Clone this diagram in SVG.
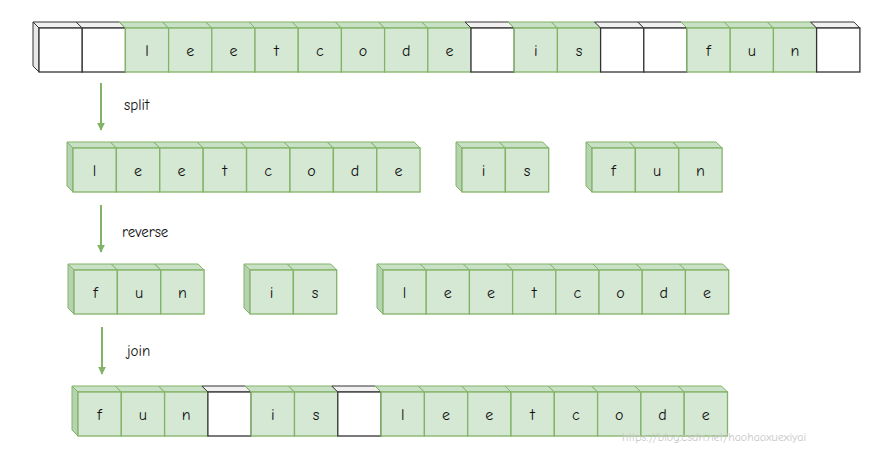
<svg xmlns="http://www.w3.org/2000/svg" width="892" height="453" viewBox="0 0 892 453">
<style>
.g polygon{fill:#b5d3b2;stroke:#82b366;stroke-width:1}
.w polygon{fill:#e8e8e8;stroke:#333;stroke-width:1}
text{font-family:"Comic Neue","Liberation Sans",sans-serif;font-size:16px;text-anchor:middle;fill:#111}
.lbl{text-anchor:start;font-size:15px}
.wm{text-anchor:start;font-size:12px;fill:#c8c8c8}
</style>
<defs>
<marker id="ah" viewBox="0 0 10 10" refX="9" refY="5" markerWidth="4" markerHeight="4" orient="auto"><path d="M0,0L10,5L0,10z" fill="#82b366"/></marker>
<g id="gc"><polygon points="-6,-6 37.3,-6 43.3,0 0,0" fill="#c8e0c5" stroke="#82b366" stroke-width="1"/><rect width="43.3" height="44" fill="#d5e8d4" stroke="#82b366" stroke-width="1.3"/></g>
<g id="wc"><polygon points="-6,-6 37.3,-6 43.3,0 0,0" fill="#f0f0f0" stroke="#333" stroke-width="1"/><rect width="43.3" height="44" fill="#fff" stroke="#333" stroke-width="1.3"/></g>
</defs>
<g id="row1">
<g class="w"><polygon points="-6,-6 0,0 0,44 -6,38" transform="translate(39,28)"/></g>
<g transform="translate(39,28)"><use href="#wc"/></g>
<g transform="translate(82.2,28)"><use href="#wc"/></g>
<g transform="translate(125.4,28)"><use href="#gc"/><text x="21.6" y="28">l</text></g>
<g transform="translate(168.6,28)"><use href="#gc"/><text x="21.6" y="28">e</text></g>
<g transform="translate(211.8,28)"><use href="#gc"/><text x="21.6" y="28">e</text></g>
<g transform="translate(255,28)"><use href="#gc"/><text x="21.6" y="28">t</text></g>
<g transform="translate(298.2,28)"><use href="#gc"/><text x="21.6" y="28">c</text></g>
<g transform="translate(341.4,28)"><use href="#gc"/><text x="21.6" y="28">o</text></g>
<g transform="translate(384.6,28)"><use href="#gc"/><text x="21.6" y="28">d</text></g>
<g transform="translate(427.8,28)"><use href="#gc"/><text x="21.6" y="28">e</text></g>
<g transform="translate(471,28)"><use href="#wc"/></g>
<g transform="translate(514.2,28)"><use href="#gc"/><text x="21.6" y="28">i</text></g>
<g transform="translate(557.4,28)"><use href="#gc"/><text x="21.6" y="28">s</text></g>
<g transform="translate(600.6,28)"><use href="#wc"/></g>
<g transform="translate(643.8,28)"><use href="#wc"/></g>
<g transform="translate(687,28)"><use href="#gc"/><text x="21.6" y="28">f</text></g>
<g transform="translate(730.2,28)"><use href="#gc"/><text x="21.6" y="28">u</text></g>
<g transform="translate(773.4,28)"><use href="#gc"/><text x="21.6" y="28">n</text></g>
<g transform="translate(816.6,28)"><use href="#wc"/></g>
</g>
<g id="row2">
<g class="g"><polygon points="-6,-6 0,0 0,44 -6,38" transform="translate(73,148)"/><polygon points="-6,-6 0,0 0,44 -6,38" transform="translate(462,148)"/><polygon points="-6,-6 0,0 0,44 -6,38" transform="translate(592,148)"/></g>
<g transform="translate(73,148)"><use href="#gc"/><text x="21.6" y="28">l</text></g>
<g transform="translate(116.4,148)"><use href="#gc"/><text x="21.6" y="28">e</text></g>
<g transform="translate(159.8,148)"><use href="#gc"/><text x="21.6" y="28">e</text></g>
<g transform="translate(203.2,148)"><use href="#gc"/><text x="21.6" y="28">t</text></g>
<g transform="translate(246.6,148)"><use href="#gc"/><text x="21.6" y="28">c</text></g>
<g transform="translate(290,148)"><use href="#gc"/><text x="21.6" y="28">o</text></g>
<g transform="translate(333.4,148)"><use href="#gc"/><text x="21.6" y="28">d</text></g>
<g transform="translate(376.8,148)"><use href="#gc"/><text x="21.6" y="28">e</text></g>
<g transform="translate(462,148)"><use href="#gc"/><text x="21.6" y="28">i</text></g>
<g transform="translate(505.4,148)"><use href="#gc"/><text x="21.6" y="28">s</text></g>
<g transform="translate(592,148)"><use href="#gc"/><text x="21.6" y="28">f</text></g>
<g transform="translate(635.4,148)"><use href="#gc"/><text x="21.6" y="28">u</text></g>
<g transform="translate(678.8,148)"><use href="#gc"/><text x="21.6" y="28">n</text></g>
</g>
<g id="row3">
<g class="g"><polygon points="-6,-6 0,0 0,44 -6,38" transform="translate(74,270)"/><polygon points="-6,-6 0,0 0,44 -6,38" transform="translate(250,270)"/><polygon points="-6,-6 0,0 0,44 -6,38" transform="translate(383,270)"/></g>
<g transform="translate(74,270)"><use href="#gc"/><text x="21.6" y="28">f</text></g>
<g transform="translate(117.4,270)"><use href="#gc"/><text x="21.6" y="28">u</text></g>
<g transform="translate(160.8,270)"><use href="#gc"/><text x="21.6" y="28">n</text></g>
<g transform="translate(250,270)"><use href="#gc"/><text x="21.6" y="28">i</text></g>
<g transform="translate(293.4,270)"><use href="#gc"/><text x="21.6" y="28">s</text></g>
<g transform="translate(383,270)"><use href="#gc"/><text x="21.6" y="28">l</text></g>
<g transform="translate(426.2,270)"><use href="#gc"/><text x="21.6" y="28">e</text></g>
<g transform="translate(469.4,270)"><use href="#gc"/><text x="21.6" y="28">e</text></g>
<g transform="translate(512.6,270)"><use href="#gc"/><text x="21.6" y="28">t</text></g>
<g transform="translate(555.8,270)"><use href="#gc"/><text x="21.6" y="28">c</text></g>
<g transform="translate(599,270)"><use href="#gc"/><text x="21.6" y="28">o</text></g>
<g transform="translate(642.2,270)"><use href="#gc"/><text x="21.6" y="28">d</text></g>
<g transform="translate(685.4,270)"><use href="#gc"/><text x="21.6" y="28">e</text></g>
</g>
<g id="row4">
<g class="g"><polygon points="-6,-6 0,0 0,44 -6,38" transform="translate(78,392)"/></g>
<g transform="translate(78,392)"><use href="#gc"/><text x="21.6" y="28">f</text></g>
<g transform="translate(121.3,392)"><use href="#gc"/><text x="21.6" y="28">u</text></g>
<g transform="translate(164.6,392)"><use href="#gc"/><text x="21.6" y="28">n</text></g>
<g transform="translate(207.9,392)"><use href="#wc"/></g>
<g transform="translate(251.2,392)"><use href="#gc"/><text x="21.6" y="28">i</text></g>
<g transform="translate(294.5,392)"><use href="#gc"/><text x="21.6" y="28">s</text></g>
<g transform="translate(337.8,392)"><use href="#wc"/></g>
<g transform="translate(381.1,392)"><use href="#gc"/><text x="21.6" y="28">l</text></g>
<g transform="translate(424.4,392)"><use href="#gc"/><text x="21.6" y="28">e</text></g>
<g transform="translate(467.7,392)"><use href="#gc"/><text x="21.6" y="28">e</text></g>
<g transform="translate(511,392)"><use href="#gc"/><text x="21.6" y="28">t</text></g>
<g transform="translate(554.3,392)"><use href="#gc"/><text x="21.6" y="28">c</text></g>
<g transform="translate(597.6,392)"><use href="#gc"/><text x="21.6" y="28">o</text></g>
<g transform="translate(640.9,392)"><use href="#gc"/><text x="21.6" y="28">d</text></g>
<g transform="translate(684.2,392)"><use href="#gc"/><text x="21.6" y="28">e</text></g>
</g>
<g id="connectors" stroke="#82b366" stroke-width="2" fill="none">
<line x1="101" y1="83" x2="101" y2="130" marker-end="url(#ah)"/>
<line x1="101" y1="205" x2="101" y2="252" marker-end="url(#ah)"/>
<line x1="102" y1="327" x2="102" y2="374" marker-end="url(#ah)"/>
</g>
<g id="labels">
<text class="lbl" x="124" y="110">split</text>
<text class="lbl" x="122" y="237">reverse</text>
<text class="lbl" x="127" y="356">join</text>
</g>
<text class="wm" x="622" y="441">https://blog.csdn.net/haohaoxuexiyai</text>
</svg>
